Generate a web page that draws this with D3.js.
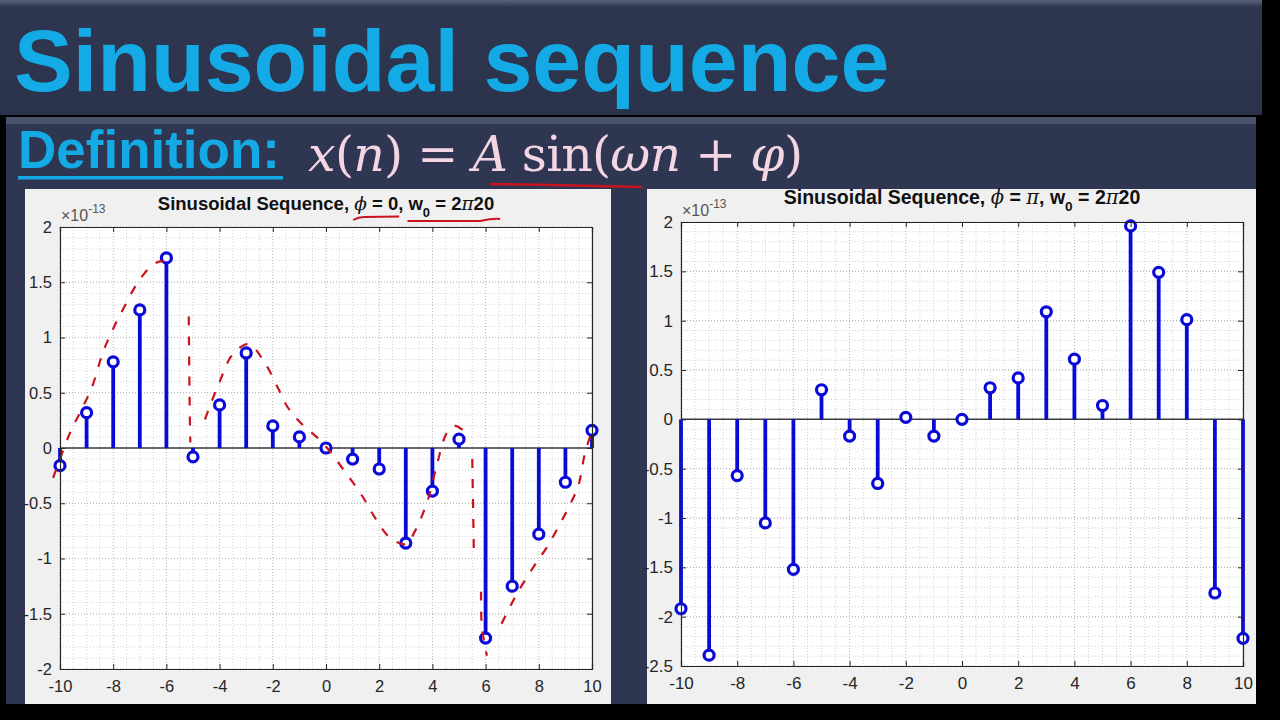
<!DOCTYPE html>
<html>
<head>
<meta charset="utf-8">
<script src="https://cdn.jsdelivr.net/npm/d3@7"></script>
<style>
  body { margin: 0; background: #000; }
  svg { display: block; }
</style>
</head>
<body>
<svg id="chart"></svg>
<script>
const width = 1280;
const height = 720;

// sample index n and the two sequences (values in units of 1e-13)
const nIndex = [-10, -9, -8, -7, -6, -5, -4, -3, -2, -1, 0, 1, 2, 3, 4, 5, 6, 7, 8, 9, 10];
const seqPhi0 = [-0.16, 0.32, 0.78, 1.25, 1.72, -0.08, 0.39, 0.86, 0.2, 0.1, 0, -0.1, -0.19, -0.86, -0.39, 0.08, -1.72, -1.25, -0.78, -0.31, 0.16];
const seqPhiPi = [-1.92, -2.39, -0.57, -1.05, -1.52, 0.3, -0.17, -0.65, 0.02, -0.17, 0, 0.32, 0.42, 1.09, 0.61, 0.14, 1.96, 1.49, 1.01, -1.76, -2.22];

// tick labels
const xTicks = [-10, -8, -6, -4, -2, 0, 2, 4, 6, 8, 10];
const yTicksLeft = [-2, -1.5, -1, -0.5, 0, 0.5, 1, 1.5, 2];
const yTicksRight = [-2.5, -2, -1.5, -1, -0.5, 0, 0.5, 1, 1.5, 2];

// hand drawn red envelope on the left plot, [n, value]
const envRise = [[-10.26, -0.27], [-9.6, 0.15], [-9.25, 0.32], [-8.8, 0.55], [-8.38, 0.87], [-8, 1.08], [-7.6, 1.27], [-7.07, 1.5], [-6.5, 1.66], [-6.13, 1.69], [-5.94, 1.62]];
const envDropA = [[-5.16, 1.19], [-5.12, 0.3], [-5.1, 0.05]];
const envMid = [[-4.55, 0.26], [-4, 0.6], [-3.5, 0.85], [-2.9, 0.94], [-2.3, 0.77], [-1.8, 0.54], [-1.47, 0.38], [-1, 0.24], [-0.1, 0.04], [0.64, -0.19], [1.35, -0.43], [1.84, -0.63], [2.4, -0.81], [3, -0.87], [3.35, -0.75], [3.84, -0.46], [4.17, -0.15], [4.55, 0.14], [4.85, 0.2], [5.2, 0.15]];
const envDropB = [[5.5, -0.1], [5.56, -0.96]];
const envDropC = [[5.83, -1.3], [5.86, -1.62], [6.05, -1.88]];
const envTail = [[6.6, -1.59], [7.2, -1.31], [7.9, -1.04], [8.3, -0.9], [8.9, -0.64], [9.2, -0.5], [9.5, -0.33], [9.75, -0.03], [10.05, 0.18]];

const navy = "#2e3651";
const cyan = "#14aae6";
const stemBlue = "#0a0ad8";
const inkRed = "#c8141e";

const svg = d3.select("#chart")
  .attr("width", width)
  .attr("height", height);

const defs = svg.append("defs");
const bevel = defs.append("linearGradient")
  .attr("id", "bevel")
  .attr("x1", 0).attr("y1", 0).attr("x2", 0).attr("y2", 1);
bevel.append("stop").attr("offset", "0%").attr("stop-color", "#59627a");
bevel.append("stop").attr("offset", "6%").attr("stop-color", navy);
bevel.append("stop").attr("offset", "100%").attr("stop-color", "#2b334c");

// black backdrop then the two slide bands
svg.append("rect").attr("width", width).attr("height", height).attr("fill", "#000");
svg.append("rect")
  .attr("x", 0).attr("y", 0)
  .attr("width", 1262).attr("height", 115)
  .attr("fill", "url(#bevel)");
svg.append("rect")
  .attr("x", 6).attr("y", 117)
  .attr("width", 1250).attr("height", 587)
  .attr("fill", navy);
svg.append("rect")
  .attr("x", 6).attr("y", 117)
  .attr("width", 1250).attr("height", 7)
  .attr("fill", "#4a536b");

// slide title
svg.append("text")
  .attr("x", 14)
  .attr("y", 91)
  .style("font-family", "'Liberation Sans', Arial, sans-serif")
  .style("font-weight", "bold")
  .style("font-size", "88px")
  .attr("fill", cyan)
  .text("Sinusoidal sequence");

// definition line
svg.append("text")
  .attr("x", 18)
  .attr("y", 168)
  .style("font-family", "'Liberation Sans', Arial, sans-serif")
  .style("font-weight", "bold")
  .style("font-size", "53px")
  .attr("fill", cyan)
  .text("Definition:");
svg.append("rect")
  .attr("x", 18).attr("y", 176)
  .attr("width", 265).attr("height", 3.5)
  .attr("fill", cyan);

const formula = svg.append("text")
  .attr("x", 308)
  .attr("y", 171)
  .attr("textLength", 495)
  .attr("lengthAdjust", "spacing")
  .style("font-family", "'DejaVu Serif', 'Liberation Serif', serif")
  .style("font-size", "49px")
  .attr("fill", "#f3d5e4");
[
  ["x", true], ["(", false], ["n", true], [")", false], [" = ", false],
  ["A", true], [" sin(", false], ["ω", true], ["n", true], [" + ", false],
  ["φ", true], [")", false]
].forEach(([t, it]) => {
  formula.append("tspan").style("font-style", it ? "italic" : "normal").text(t);
});

svg.append("path")
  .attr("d", "M490,184 Q560,185 642,187")
  .attr("fill", "none")
  .attr("stroke", inkRed)
  .attr("stroke-width", 2.5);

// one MATLAB style stem panel
function drawStemPanel(cfg) {
  const g = svg.append("g");

  g.append("rect")
    .attr("x", cfg.panel[0]).attr("y", cfg.panel[1])
    .attr("width", cfg.panel[2]).attr("height", cfg.panel[3])
    .attr("fill", "#f0f0f0");

  const xScale = d3.scaleLinear().domain([-10, 10]).range([cfg.left, cfg.right]);
  const yScale = d3.scaleLinear().domain(cfg.yDomain).range([cfg.bottom, cfg.top]);

  g.append("rect")
    .attr("x", cfg.left).attr("y", cfg.top)
    .attr("width", cfg.right - cfg.left).attr("height", cfg.bottom - cfg.top)
    .attr("fill", "#fff");

  // minor and major dotted grid
  const xMinor = d3.range(-10, 10.001, 0.5);
  const yMinor = d3.range(cfg.yDomain[0], cfg.yDomain[1] + 0.001, 0.1);
  g.selectAll(".gx").data(xMinor).enter().append("line")
    .attr("x1", d => xScale(d)).attr("x2", d => xScale(d))
    .attr("y1", cfg.top).attr("y2", cfg.bottom)
    .attr("stroke", d => xTicks.includes(d) ? "#b4b4b4" : "#d2d2d2")
    .attr("stroke-dasharray", "1,2");
  g.selectAll(".gy").data(yMinor).enter().append("line")
    .attr("x1", cfg.left).attr("x2", cfg.right)
    .attr("y1", d => yScale(d)).attr("y2", d => yScale(d))
    .attr("stroke", "#d2d2d2")
    .attr("stroke-dasharray", "1,2");
  g.selectAll(".gym").data(cfg.yTicks).enter().append("line")
    .attr("x1", cfg.left).attr("x2", cfg.right)
    .attr("y1", d => yScale(d)).attr("y2", d => yScale(d))
    .attr("stroke", "#b4b4b4")
    .attr("stroke-dasharray", "1,2");

  // stem baseline
  g.append("line")
    .attr("x1", xScale(-10)).attr("x2", xScale(10))
    .attr("y1", yScale(0)).attr("y2", yScale(0))
    .attr("stroke", "#3c3c3c")
    .attr("stroke-width", 1.5);

  const pts = nIndex.map((n, i) => ({ n, v: cfg.values[i] }));

  g.selectAll(".stem").data(pts).enter().append("line")
    .attr("x1", d => xScale(d.n)).attr("x2", d => xScale(d.n))
    .attr("y1", yScale(0)).attr("y2", d => yScale(d.v))
    .attr("stroke", stemBlue)
    .attr("stroke-width", 3.8);

  g.selectAll(".mark").data(pts).enter().append("circle")
    .attr("cx", d => xScale(d.n)).attr("cy", d => yScale(d.v))
    .attr("r", 5)
    .attr("fill", "#fff")
    .attr("stroke", stemBlue)
    .attr("stroke-width", 3.2);

  // annotations drawn on top of the stems
  if (cfg.envelope) {
    const env = d3.line()
      .x(d => xScale(d[0]))
      .y(d => yScale(d[1]))
      .curve(d3.curveCatmullRom);
    cfg.envelope.forEach(seg => {
      g.append("path")
        .attr("d", env(seg))
        .attr("fill", "none")
        .attr("stroke", inkRed)
        .attr("stroke-width", 2.2)
        .attr("stroke-dasharray", "9,11");
    });
  }

  // box with inward ticks on all four sides
  const font = "'Liberation Sans', Arial, Helvetica, sans-serif";
  const ink = "#262626";

  const xAxisG = g.append("g")
    .attr("transform", `translate(0,${cfg.bottom})`)
    .call(d3.axisBottom(xScale).tickValues(xTicks).tickSize(-5).tickPadding(13).tickFormat(d => String(d)));
  g.append("g")
    .attr("transform", `translate(0,${cfg.top})`)
    .call(d3.axisTop(xScale).tickValues(xTicks).tickSize(-5).tickFormat(""));
  g.append("g")
    .attr("transform", `translate(${cfg.left},0)`)
    .call(d3.axisLeft(yScale).tickValues(cfg.yTicks).tickSize(-5).tickPadding(8).tickFormat(d => String(d)));
  g.append("g")
    .attr("transform", `translate(${cfg.right},0)`)
    .call(d3.axisRight(yScale).tickValues(cfg.yTicks).tickSize(-5).tickFormat(""));

  g.selectAll(".domain").attr("stroke", ink).attr("stroke-width", 1.2);
  g.selectAll(".tick line").attr("stroke", ink);
  g.selectAll(".tick text")
    .attr("fill", ink)
    .style("font-family", font)
    .style("font-size", cfg.tickSize + "px");
  xAxisG.selectAll(".tick text").attr("dy", "0.6em");

  // exponent label
  const expo = g.append("text")
    .attr("x", cfg.left + 1)
    .attr("y", cfg.expY)
    .attr("fill", "#555")
    .style("font-family", font)
    .style("font-size", "16px");
  expo.append("tspan").text("×10");
  expo.append("tspan").attr("dy", -8).style("font-size", "12px").text("-13");

  // title
  const title = g.append("text")
    .attr("x", (cfg.left + cfg.right) / 2)
    .attr("y", cfg.titleY)
    .attr("text-anchor", "middle")
    .attr("fill", "#111")
    .style("font-family", font)
    .style("font-weight", "bold")
    .style("font-size", cfg.titleSize + "px");
  const tex = "'DejaVu Serif', 'Liberation Serif', serif";
  title.append("tspan").text("Sinusoidal Sequence, ");
  const phiSpan = title.append("tspan")
    .style("font-family", tex).style("font-style", "italic").style("font-weight", "normal")
    .text("ϕ");
  title.append("tspan").text(" = ");
  const phaseSpan = title.append("tspan").text(cfg.phase);
  if (cfg.phase === "π") {
    phaseSpan.style("font-family", tex).style("font-style", "italic").style("font-weight", "normal");
  }
  title.append("tspan").text(", ");
  const wSpan = title.append("tspan").text("w");
  title.append("tspan").attr("dy", 7).style("font-size", "0.7em").text("0");
  title.append("tspan").attr("dy", -7).text(" = 2");
  title.append("tspan")
    .style("font-family", tex).style("font-style", "italic").style("font-weight", "normal")
    .text("π");
  const endSpan = title.append("tspan").text("20");

  if (cfg.underline) {
    const a = phiSpan.node().getBBox();
    const b = phaseSpan.node().getBBox();
    const c = wSpan.node().getBBox();
    const e = endSpan.node().getBBox();
    const yA = cfg.titleY + 7;
    g.append("path")
      .attr("d", `M${a.x - 1},${yA + 3} Q${a.x + 4},${yA} ${a.x + 10},${yA} L${b.x + b.width + 1},${yA - 0.5}`)
      .attr("fill", "none").attr("stroke", inkRed).attr("stroke-width", 2);
    const yB = cfg.titleY + 11;
    g.append("path")
      .attr("d", `M${c.x},${yB} L${e.x + e.width - 14},${yB} Q${e.x + e.width},${yB - 3} ${e.x + e.width + 6},${yB - 2}`)
      .attr("fill", "none").attr("stroke", inkRed).attr("stroke-width", 2);
  }
}

drawStemPanel({
  panel: [25, 189, 586, 515],
  left: 60, right: 592, top: 227, bottom: 669,
  yDomain: [-2, 2],
  yTicks: yTicksLeft,
  values: seqPhi0,
  phase: "0",
  titleY: 210, titleSize: 18.5,
  expY: 221,
  tickSize: 16.5,
  envelope: [envRise, envDropA, envMid, envDropB, envDropC, envTail],
  underline: true
});

drawStemPanel({
  panel: [647, 189, 609, 515],
  left: 681, right: 1243, top: 222, bottom: 666,
  yDomain: [-2.5, 2],
  yTicks: yTicksRight,
  values: seqPhiPi,
  phase: "π",
  titleY: 204, titleSize: 19.5,
  expY: 216,
  tickSize: 17,
  envelope: null,
  underline: false
});
</script>
</body>
</html>
